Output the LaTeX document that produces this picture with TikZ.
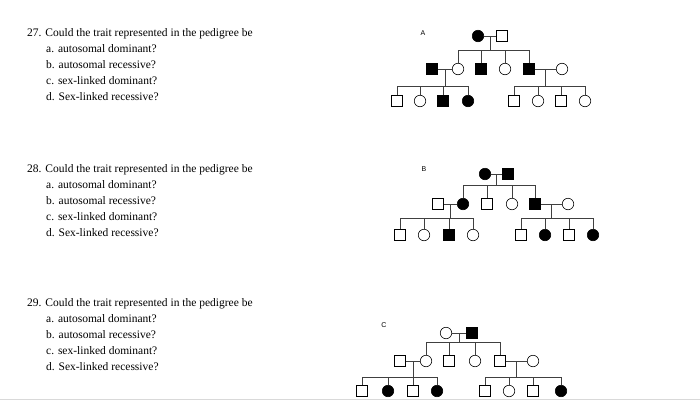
\documentclass[tikz,border=0pt]{standalone}
\usepackage{fontspec}
\setmainfont{Liberation Serif}
\setsansfont{Liberation Sans}
\usetikzlibrary{calc}
\begin{document}
\begin{tikzpicture}[x=1pt,y=-1pt,
  m/.style={draw,line width=0.6pt,minimum size=10.5pt,inner sep=0pt},
  f/.style={draw,circle,line width=0.6pt,minimum size=11.5pt,inner sep=0pt},
  af/.style={fill=black},
  ln/.style={draw=black!75,line width=0.6pt},
  q/.style={anchor=base west,font=\fontsize{11.5}{13}\selectfont,inner sep=0pt},
  lab/.style={font=\sffamily\fontsize{7}{8}\selectfont,inner sep=0pt}]
\useasboundingbox (0,0) rectangle (700,402);
\draw[black!15,line width=1pt] (0,399) -- (700,399);
% texts
\foreach \y/\n in {36/27,172/28,306/29}{
  \node[q] (t\n) at (27,\y) {\n. Could the trait represented in the pedigree be};
  \node[q] at (46,\y+16) {a. autosomal dominant?};
  \node[q] at (46,\y+32) {b. autosomal recessive?};
  \node[q] at (46,\y+48) {c. sex-linked dominant?};
  \node[q] at (46,\y+64) {d. Sex-linked recessive?};
}
% generic pedigree macro: #1 prefix
\newcommand{\famline}[5]{% p1,p2,busy,first,last
  \draw[ln] (#1) -- (#2);
  \coordinate (mid) at ($(#1)!.5!(#2)$);
  \draw[ln] (mid) -- (mid |- 0,#3);
  \draw[ln] (#4.north |- 0,#3) -- (#5.north |- 0,#3);}
\newcommand{\kid}[2]{\draw[ln] (#1.north) -- (#1.north |- 0,#2);}
% ---------- A
\node[lab] (LA) at (423,33) {A};
\node[f,af] (a1) at (478,36) {};
\node[m] (a2) at (502,36) {};
\node[m,af] (a3) at (432,69) {};
\node[f] (a4) at (458,69) {};
\node[m,af] (a5) at (481,69) {};
\node[f] (a6) at (505,69) {};
\node[m,af] (a7) at (529,69) {};
\node[f] (a8) at (562,69) {};
\node[m] (a9) at (397,101) {};
\node[f] (a10) at (420,101) {};
\node[m,af] (a11) at (443,101) {};
\node[f,af] (a12) at (468,101) {};
\node[m] (a13) at (514,101) {};
\node[f] (a14) at (538,101) {};
\node[m] (a15) at (561,101) {};
\node[f] (a16) at (585,101) {};
\famline{a1}{a2}{50}{a4}{a7}
\foreach \k in {a4,a5,a6,a7}{\kid{\k}{50}}
\famline{a3}{a4}{86}{a9}{a12}
\foreach \k in {a9,a10,a11,a12}{\kid{\k}{86}}
\famline{a7}{a8}{86}{a13}{a16}
\foreach \k in {a13,a14,a15,a16}{\kid{\k}{86}}
% ---------- B
\node[lab] (LB) at (424,169) {B};
\node[f,af] (b1) at (485,174) {};
\node[m,af] (b2) at (508,174) {};
\node[m] (b3) at (438,204) {};
\node[f,af] (b4) at (463,204) {};
\node[m] (b5) at (487,204) {};
\node[f] (b6) at (512,204) {};
\node[m,af] (b7) at (535,204) {};
\node[f] (b8) at (568,204) {};
\node[m] (b9) at (400,235) {};
\node[f] (b10) at (424,235) {};
\node[m,af] (b11) at (449,235) {};
\node[f] (b12) at (473,235) {};
\node[m] (b13) at (521,235) {};
\node[f,af] (b14) at (545,235) {};
\node[m] (b15) at (569,235) {};
\node[f,af] (b16) at (593,235) {};
\famline{b1}{b2}{185}{b4}{b7}
\foreach \k in {b4,b5,b6,b7}{\kid{\k}{185}}
\famline{b3}{b4}{218}{b9}{b12}
\foreach \k in {b9,b10,b11,b12}{\kid{\k}{218}}
\famline{b7}{b8}{218}{b13}{b16}
\foreach \k in {b13,b14,b15,b16}{\kid{\k}{218}}
% ---------- C
\node[lab] (LC) at (384,325) {C};
\node[f] (c1) at (446,333) {};
\node[m,af] (c2) at (472,333) {};
\node[m] (c3) at (400,361) {};
\node[f] (c4) at (426,361) {};
\node[m] (c5) at (449,361) {};
\node[f] (c6) at (475,361) {};
\node[m] (c7) at (500,361) {};
\node[f] (c8) at (533,361) {};
\node[m] (c9) at (362,391) {};
\node[f,af] (c10) at (388,391) {};
\node[m] (c11) at (413,391) {};
\node[f,af] (c12) at (437,391) {};
\node[m] (c13) at (485,391) {};
\node[f] (c14) at (509,391) {};
\node[m] (c15) at (533,391) {};
\node[f,af] (c16) at (561,391) {};
\famline{c1}{c2}{342}{c4}{c7}
\foreach \k in {c4,c5,c6,c7}{\kid{\k}{342}}
\famline{c3}{c4}{377}{c9}{c12}
\foreach \k in {c9,c10,c11,c12}{\kid{\k}{377}}
\famline{c7}{c8}{377}{c13}{c16}
\foreach \k in {c13,c14,c15,c16}{\kid{\k}{377}}
\end{tikzpicture}
\end{document}
